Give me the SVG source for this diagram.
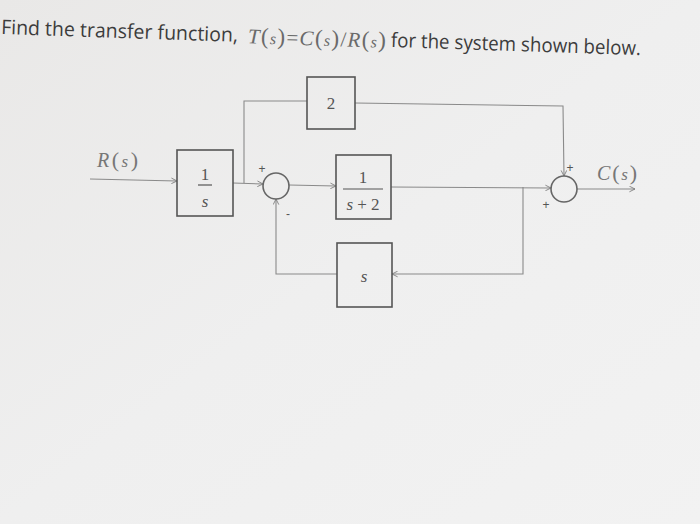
<svg xmlns="http://www.w3.org/2000/svg" width="700" height="524" viewBox="0 0 700 524">
  <defs>
    <linearGradient id="bg" x1="0" y1="0" x2="1" y2="1">
      <stop offset="0" stop-color="#e9e8e7"/>
      <stop offset="0.5" stop-color="#efefef"/>
      <stop offset="1" stop-color="#f2f2f2"/>
    </linearGradient>
    <marker id="arr" viewBox="0 0 10 10" refX="9" refY="5" markerWidth="7" markerHeight="7" markerUnits="userSpaceOnUse" orient="auto">
      <path d="M1,1 L9,5 L1,9" fill="none" stroke="#777" stroke-width="1.2"/>
    </marker>
  </defs>
  <style>
    .title { font-family: "Open Sans", "Liberation Sans", sans-serif; font-size: 20px; fill: #3c3c3c; }
    .math { font-family: "Liberation Serif", "DejaVu Serif", serif; font-size: 21px; fill: #6a6a6a; }
    .it { font-style: italic; }
    .box { fill: none; stroke: #555; stroke-width: 1.6; }
    .sum { fill: none; stroke: #666; stroke-width: 1.6; }
    .wire { fill: none; stroke: #8a8a8a; stroke-width: 1.1; }
    .lbl { font-family: "Liberation Serif", "DejaVu Serif", serif; font-size: 17px; fill: #555; text-anchor: middle; }
    .frac { stroke: #555; stroke-width: 1.2; }
    .sign { font-family: "Liberation Sans", sans-serif; font-size: 12px; fill: #555; text-anchor: middle; }
    .sig { font-family: "Liberation Serif", "DejaVu Serif", serif; font-size: 20px; fill: #777; font-style: italic; }
  </style>
  <rect width="700" height="524" fill="url(#bg)"/>

  <g id="title" transform="rotate(1.9 0 31)">
    <text class="title" x="1" y="34" textLength="237" lengthAdjust="spacingAndGlyphs">Find the transfer function,</text>
    <text class="math" x="248" y="35" textLength="138" lengthAdjust="spacing"><tspan class="it">T</tspan><tspan font-size="23">(</tspan><tspan class="it" font-size="16">s</tspan><tspan font-size="23">)</tspan>=<tspan class="it">C</tspan><tspan font-size="23">(</tspan><tspan class="it" font-size="16">s</tspan><tspan font-size="23">)</tspan>/<tspan class="it">R</tspan><tspan font-size="23">(</tspan><tspan class="it" font-size="16">s</tspan><tspan font-size="23">)</tspan></text>
    <text class="title" x="391" y="34" textLength="250" lengthAdjust="spacingAndGlyphs">for the system shown below.</text>
  </g>

  <g id="connectors">
    <path class="wire" d="M90,179 L177,181" marker-end="url(#arr)"/>
    <path class="wire" d="M233,183 L263,184" marker-end="url(#arr)"/>
    <path class="wire" d="M244,183 L244,101 L307,101"/>
    <path class="wire" d="M355,103 L563,106 L564,176" marker-end="url(#arr)"/>
    <path class="wire" d="M289,185 L336,186" marker-end="url(#arr)"/>
    <path class="wire" d="M391,187 L551,188" marker-end="url(#arr)"/>
    <path class="wire" d="M523,187 L523,274 L392,274" marker-end="url(#arr)"/>
    <path class="wire" d="M337,274 L276,274 L276,199" marker-end="url(#arr)"/>
    <path class="wire" d="M577,189 L635,189" marker-end="url(#arr)"/>
  </g>

  <g id="input-label">
    <text class="sig" x="97" y="167" textLength="41" lengthAdjust="spacing"><tspan>R</tspan><tspan font-style="normal" font-size="22">(</tspan><tspan font-size="17">s</tspan><tspan font-style="normal" font-size="22">)</tspan></text>
  </g>
  <g id="output-label">
    <text class="sig" x="597" y="180" textLength="40" lengthAdjust="spacing"><tspan>C</tspan><tspan font-style="normal" font-size="22">(</tspan><tspan font-size="17">s</tspan><tspan font-style="normal" font-size="22">)</tspan></text>
  </g>

  <g id="block-integrator">
    <rect class="box" x="177" y="150" width="56" height="66"/>
    <text class="lbl" x="205" y="180">1</text>
    <line class="frac" x1="198" y1="185" x2="212" y2="185"/>
    <text class="lbl" x="205" y="207" font-style="italic">s</text>
  </g>

  <g id="block-gain2">
    <rect class="box" x="307" y="77" width="48" height="52"/>
    <text class="lbl" x="331" y="109">2</text>
  </g>

  <g id="block-plant">
    <rect class="box" x="336" y="155" width="55" height="64"/>
    <text class="lbl" x="363" y="183">1</text>
    <line class="frac" x1="343" y1="189" x2="383" y2="189"/>
    <text class="lbl" x="363" y="210"><tspan font-style="italic">s</tspan> + 2</text>
  </g>

  <g id="block-feedback">
    <rect class="box" x="337" y="243" width="55" height="64"/>
    <text class="lbl" x="364" y="282" font-style="italic">s</text>
  </g>

  <g id="sum1">
    <circle class="sum" cx="276" cy="186" r="13"/>
    <text class="sign" x="262" y="173">+</text>
    <text class="sign" x="288" y="218">-</text>
  </g>

  <g id="sum2">
    <circle class="sum" cx="564" cy="189" r="13"/>
    <text class="sign" x="570" y="172">+</text>
    <text class="sign" x="546" y="209">+</text>
  </g>
</svg>
